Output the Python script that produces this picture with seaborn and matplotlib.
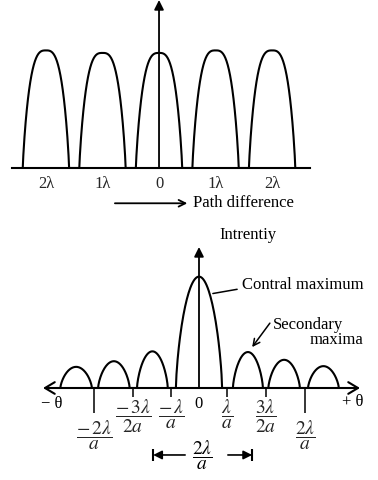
import numpy as np
import pandas as pd
import matplotlib
matplotlib.use("Agg")
import matplotlib.pyplot as plt
import seaborn as sns

# --- upper diagram: intensity vs path difference (units of lambda) ---
top_centers = [-2, -1, 0, 1, 2]
top_heights = [0.70, 0.685, 0.685, 0.70, 0.70]
top_half_width = 0.41
top_tick_pos = [-2, -1, 0, 1, 2]
top_tick_labels = ["2λ", "1λ", "0", "1λ", "2λ"]

# --- lower diagram: single slit diffraction pattern ---
bot_centers = [-3.19, -2.21, -1.21, 0.0, 1.27, 2.21, 3.23]
bot_heights = [0.15, 0.19, 0.26, 0.79, 0.255, 0.20, 0.155]
bot_half_widths = [0.41, 0.41, 0.40, 0.60, 0.39, 0.41, 0.40]
bot_major_pos = [-2.73, 2.75]
bot_major_labels = [r"$\dfrac{-\,2\lambda}{a}$", r"$\dfrac{2\lambda}{a}$"]
bot_minor_pos = [-1.71, -0.72, 0.73, 1.74]
bot_minor_labels = [r"$\dfrac{-\,3\lambda}{2a}$", r"$\dfrac{-\,\lambda}{a}$",
                    r"$\dfrac{\lambda}{a}$", r"$\dfrac{3\lambda}{2a}$"]
span_ends = [-1.19, 1.38]


def arch_curve(centers, heights, half_widths, q, p):
    xs, ys = [], []
    for c, h, w in zip(centers, heights, half_widths):
        u = np.linspace(-1, 1, 81)
        xs.extend(c + w * u)
        ys.extend(h * np.clip(1 - np.abs(u) ** q, 0, None) ** p)
    return pd.DataFrame({"x": xs, "y": ys})


sns.set_theme(style="white")
plt.rcParams["font.family"] = ["Liberation Serif", "DejaVu Serif"]
plt.rcParams["mathtext.fontset"] = "stix"
plt.rcParams["text.color"] = "black"

fig = plt.figure(figsize=(3.78, 4.8), dpi=100)
fig.patch.set_facecolor("white")

# ---------------- top ----------------
ax1 = fig.add_axes([12 / 378, 1 - 168 / 480, 298 / 378, 168 / 480])
ax1.patch.set_alpha(0)
df_top = arch_curve(top_centers, top_heights, [top_half_width] * 5, 3, 0.85)
sns.lineplot(data=df_top, x="x", y="y", sort=False, estimator=None,
             color="black", lw=1.5, ax=ax1)
ax1.set_xlim(-2.60, 2.67)
ax1.set_ylim(0, 1)
for s in ["top", "right", "left"]:
    ax1.spines[s].set_visible(False)
ax1.spines["bottom"].set_linewidth(1.5)
ax1.spines["bottom"].set_color("black")
ax1.set_xticks(top_tick_pos, top_tick_labels)
ax1.tick_params(axis="x", direction="in", length=5, width=1.0,
                color="black", pad=6, labelsize=12)
ax1.set_yticks([])
ax1.set_xlabel("")
ax1.set_ylabel("")
ax1.annotate("", xy=(0, 1.0), xytext=(0, 0),
             arrowprops=dict(arrowstyle="-|>", lw=1.3, color="black",
                             mutation_scale=14, shrinkA=0, shrinkB=0))
ax1.annotate("", xy=(0.50, -0.21), xytext=(-0.78, -0.21), annotation_clip=False,
             arrowprops=dict(arrowstyle="->", lw=1.3, color="black",
                             mutation_scale=12, shrinkA=0, shrinkB=0))
ax1.text(0.60, -0.21, "Path difference", fontsize=12, va="center", ha="left",
         clip_on=False)

# ---------------- bottom ----------------
ax2 = fig.add_axes([43 / 378, 1 - 388 / 480, 317 / 378, 141 / 480])
ax2.patch.set_alpha(0)
parts = [arch_curve([c], [h], [w], 2, 0.7) for c, h, w in
         zip(bot_centers, bot_heights, bot_half_widths)]
df_bot = pd.concat(parts, ignore_index=True)
sns.lineplot(data=df_bot, x="x", y="y", sort=False, estimator=None,
             color="black", lw=1.5, ax=ax2)
ax2.set_xlim(-4.05, 4.18)
ax2.set_ylim(0, 1)
for s in ax2.spines.values():
    s.set_visible(False)
ax2.set_yticks([])
ax2.set_xlabel("")
ax2.set_ylabel("")
ax2.set_xticks(bot_major_pos, bot_major_labels)
ax2.set_xticks(bot_minor_pos, bot_minor_labels, minor=True)
ax2.tick_params(axis="x", which="major", direction="out", length=18, width=1.1,
                color="black", pad=4, labelsize=14, bottom=True)
ax2.tick_params(axis="x", which="minor", direction="out", length=6.5, width=1.1,
                color="black", pad=1, labelsize=14, bottom=True)

ax2.annotate("", xy=(4.18, 0), xytext=(-4.05, 0), annotation_clip=False,
             arrowprops=dict(arrowstyle="<->,head_length=0.5,head_width=0.3",
                             lw=1.5, color="black", mutation_scale=14,
                             shrinkA=0, shrinkB=0))
ax2.annotate("", xy=(0, 1.0), xytext=(0, 0), annotation_clip=False,
             arrowprops=dict(arrowstyle="-|>", lw=1.3, color="black",
                             mutation_scale=14, shrinkA=0, shrinkB=0))
ax2.text(1.27, 1.085, "Intrentiy", fontsize=12, ha="center", va="center",
         clip_on=False)
ax2.text(0, -0.11, "0", fontsize=12, ha="center", va="center")
ax2.text(-3.82, -0.11, "− θ", fontsize=12, ha="center", va="center")
ax2.text(4.0, -0.10, "+ θ", fontsize=12, ha="center", va="center", clip_on=False)

# leader to central maximum
ax2.plot([0.36, 0.99], [0.67, 0.70], color="black", lw=1.1)
ax2.text(1.12, 0.73, "Contral maximum", fontsize=12, ha="left", va="center",
         clip_on=False)
# arrow to secondary maxima
ax2.annotate("", xy=(1.38, 0.29), xytext=(1.84, 0.46),
             arrowprops=dict(arrowstyle="->", lw=1.1, color="black",
                             mutation_scale=12, shrinkA=0, shrinkB=0))
ax2.text(2.83, 0.45, "Secondary", fontsize=12, ha="center", va="center",
         clip_on=False)
ax2.text(3.56, 0.34, "maxima", fontsize=12, ha="center", va="center",
         clip_on=False)

# width of central maximum
span_y = -0.475
ax2.annotate("", xy=(span_ends[0], span_y), xytext=(-0.36, span_y),
             annotation_clip=False,
             arrowprops=dict(arrowstyle="-|>", lw=1.2, color="black",
                             mutation_scale=13, shrinkA=0, shrinkB=0))
ax2.annotate("", xy=(span_ends[1], span_y), xytext=(0.75, span_y),
             annotation_clip=False,
             arrowprops=dict(arrowstyle="-|>", lw=1.2, color="black",
                             mutation_scale=13, shrinkA=0, shrinkB=0))
ax2.plot(span_ends, [span_y, span_y], ls="none", marker="|", ms=9, mew=1.5,
         color="black", clip_on=False)
ax2.text(0.08, span_y, r"$\dfrac{2\lambda}{a}$", fontsize=14, ha="center",
         va="center", clip_on=False)

fig.savefig("out.png", dpi=100, facecolor="white")
